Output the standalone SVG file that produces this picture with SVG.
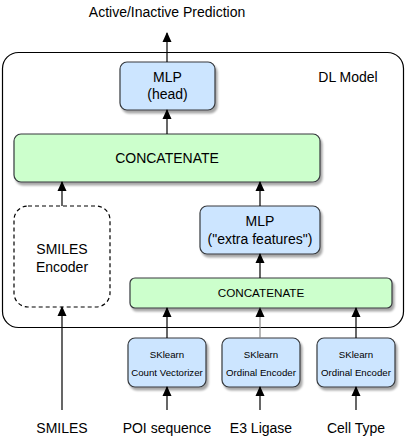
<svg xmlns="http://www.w3.org/2000/svg" width="412" height="443" viewBox="0 0 412 443">
<defs>
<marker id="ah" viewBox="0 0 10 10" refX="9" refY="5" markerWidth="10" markerHeight="10" markerUnits="userSpaceOnUse" orient="auto">
<path d="M0,0.5 L10,5 L0,9.5 Z" fill="#000"/>
</marker>
<filter id="sh" x="-10%" y="-10%" width="130%" height="140%">
<feGaussianBlur in="SourceAlpha" stdDeviation="1"/>
<feOffset dx="2" dy="3" result="b"/>
<feComponentTransfer><feFuncA type="linear" slope="0.35"/></feComponentTransfer>
<feMerge><feMergeNode/><feMergeNode in="SourceGraphic"/></feMerge>
</filter>
</defs>
<style>
text{font-family:"Liberation Sans",Arial,sans-serif;fill:#000;text-anchor:middle;}
.t14{font-size:14px;}
.t12{font-size:11.7px;}
.t10{font-size:9.7px;}
.blue{fill:#cce5ff;stroke:#36393d;stroke-width:1.2;filter:url(#sh);}
.green{fill:#ccffcc;stroke:#36393d;stroke-width:1.2;filter:url(#sh);}
.conn line{stroke:#000;stroke-width:1.2;marker-end:url(#ah);}
</style>
<rect width="412" height="443" fill="#fff"/>
<g id="dlmodel">
<rect x="2.5" y="52.5" width="401" height="275" rx="16" fill="#fff" stroke="#000" stroke-width="1.2"/>
<text class="t14" x="348" y="82">DL Model</text>
</g>
<g id="title"><text class="t14" x="167" y="17">Active/Inactive Prediction</text></g>
<g id="mlp-head">
<rect class="blue" x="120" y="62" width="95" height="48" rx="7"/>
<text class="t14" x="167.5" y="82">MLP</text>
<text class="t14" x="167.5" y="99">(head)</text>
</g>
<g id="concat-top">
<rect class="green" x="14" y="134" width="306" height="48" rx="7"/>
<text class="t14" x="167" y="163">CONCATENATE</text>
</g>
<g id="smiles-encoder">
<rect x="14" y="206" width="96" height="101" rx="14" fill="#fff" stroke="#000" stroke-width="1.2" stroke-dasharray="4 3"/>
<text class="t14" x="62" y="254">SMILES</text>
<text class="t14" x="62" y="272">Encoder</text>
</g>
<g id="mlp-extra">
<rect class="blue" x="200" y="206" width="120" height="48" rx="7"/>
<text class="t14" x="260" y="226">MLP</text>
<text class="t14" x="260" y="244">("extra features")</text>
</g>
<g id="concat-low">
<rect class="green" x="130" y="278" width="262" height="30" rx="5"/>
<text class="t12" x="261" y="297">CONCATENATE</text>
</g>
<g id="sk1">
<rect class="blue" x="128" y="338" width="78" height="49" rx="7"/>
<text class="t10" x="167" y="358">SKlearn</text>
<text class="t10" x="167" y="376">Count Vectorizer</text>
</g>
<g id="sk2">
<rect class="blue" x="222" y="338" width="78" height="49" rx="7"/>
<text class="t10" x="261" y="358">SKlearn</text>
<text class="t10" x="261" y="376">Ordinal Encoder</text>
</g>
<g id="sk3">
<rect class="blue" x="317" y="338" width="78" height="49" rx="7"/>
<text class="t10" x="356" y="358">SKlearn</text>
<text class="t10" x="356" y="376">Ordinal Encoder</text>
</g>
<g id="inputs">
<text class="t14" x="62" y="433">SMILES</text>
<text class="t14" x="167" y="433">POI sequence</text>
<text class="t14" x="261" y="433">E3 Ligase</text>
<text class="t14" x="356" y="433">Cell Type</text>
</g>
<g class="conn" id="connectors">
<line x1="167" y1="62" x2="167" y2="33"/>
<line x1="167" y1="134" x2="167" y2="110"/>
<line x1="62" y1="206" x2="62" y2="182"/>
<line x1="260" y1="206" x2="260" y2="182"/>
<line x1="260" y1="278" x2="260" y2="254"/>
<line x1="62" y1="410" x2="62" y2="307"/>
<line x1="167" y1="338" x2="167" y2="308"/>
<line x1="260" y1="338" x2="260" y2="308" style="stroke:#888"/>
<line x1="356" y1="338" x2="356" y2="308"/>
<line x1="167" y1="410" x2="167" y2="387"/>
<line x1="260" y1="410" x2="260" y2="387"/>
<line x1="356" y1="410" x2="356" y2="387"/>
</g>
</svg>
